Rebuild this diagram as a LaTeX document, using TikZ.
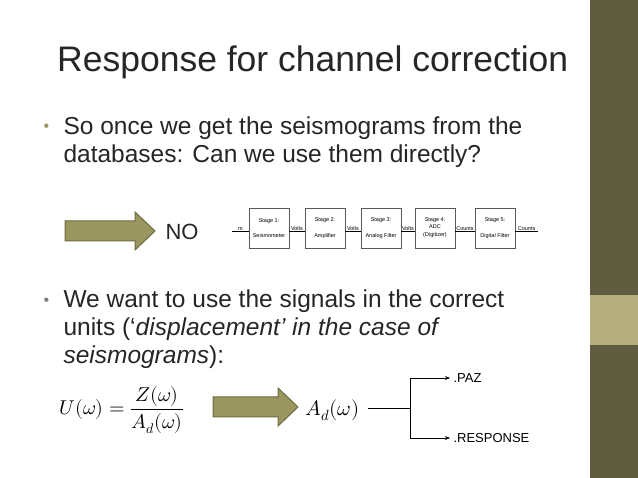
\documentclass[tikz,border=0pt]{standalone}
\usepackage{fontspec}
\setmainfont{Liberation Sans}
\usepackage{unicode-math}
\setmathfont{Latin Modern Math}
\usetikzlibrary{arrows.meta}
\definecolor{bar}{HTML}{5F5B3E}
\definecolor{tan}{HTML}{B5AF80}
\definecolor{olive}{HTML}{9A9660}
\definecolor{oliveD}{HTML}{6E6B40}
\tikzset{x=1pt,y=-1pt,
 barrow/.style={draw=oliveD,fill=olive,line width=1pt},
 stage/.style={draw=gray!70!black,fill=white,minimum width=40pt,minimum height=40pt,align=center,font=\fontsize{5.5}{6.5}\selectfont,inner sep=1pt},
 lab/.style={font=\fontsize{5.5}{6}\selectfont,above,inner sep=1pt},
 txt/.style={anchor=north west,align=left,font=\fontsize{24.5}{28}\selectfont,text=black!85}}
\newcommand\blockarrow[3]{% x0, y, length
 \draw[barrow] (#1,#2-10) -- (#1+#3-20,#2-10) -- (#1+#3-20,#2-19) -- (#1+#3,#2) -- (#1+#3-20,#2+19) -- (#1+#3-20,#2+10) -- (#1,#2+10) -- cycle;}
\begin{document}
\begin{tikzpicture}
\useasboundingbox (0,0) rectangle (638,478);
\fill[white] (0,0) rectangle (638,478);
\fill[bar] (590,0) rectangle (638,478);
\fill[tan] (590,295) rectangle (638,345);
\node[anchor=west,font=\fontsize{35.5}{38}\selectfont,text=black!85,inner sep=0pt] (title) at (57,62) {Response for channel correction};
\node[anchor=west,text=olive,font=\fontsize{16}{16}\selectfont] (b1) at (40,128) {•};
\node[txt] (t1) at (60,113) {So once we get the seismograms from the\\databases: Can we use them directly?};
\blockarrow{65}{231}{90}
\node[anchor=west,font=\fontsize{22}{22}\selectfont,text=black!85] (no) at (162,232) {NO};
\coordinate (s0) at (232,232);
\node[stage] (g1) at (269,228) {Stage 1:\\[9pt]Seismometer};
\node[stage] (g2) at (325,228) {Stage 2:\\[9pt]Amplifier};
\node[stage] (g3) at (381,228) {Stage 3:\\[9pt]Analog Filter};
\node[stage] (g4) at (435,228) {Stage 4:\\ADC\\[2pt](Digitizer)};
\node[stage] (g5) at (495,228) {Stage 5:\\[9pt]Digital Filter};
\coordinate (s6) at (538,232);
\draw[line width=1pt] (s0) -- (g1.west|-s0) node[lab,pos=0.5]{m};
\draw[line width=1pt] (g1.east|-s0) -- (g2.west|-s0) node[lab,midway]{Volts};
\draw[line width=1pt] (g2.east|-s0) -- (g3.west|-s0) node[lab,midway]{Volts};
\draw[line width=1pt] (g3.east|-s0) -- (g4.west|-s0) node[lab,midway]{Volts};
\draw[line width=1pt] (g4.east|-s0) -- (g5.west|-s0) node[lab,midway]{Counts};
\draw[line width=1pt] (g5.east|-s0) -- (s6) node[lab,midway]{Counts};
\node[anchor=west,text=gray,font=\fontsize{16}{16}\selectfont] (b2) at (40,302) {•};
\node[txt] (t2) at (60,286) {We want to use the signals in the correct\\units (‘\textit{displacement’ in the case of}\\\textit{seismograms}):};
\node[anchor=west,font=\fontsize{20}{22}\selectfont] (f1) at (56,410) {$U(\omega)=\dfrac{Z(\omega)}{A_d(\omega)}$};
\blockarrow{213}{407}{85}
\node[anchor=west,font=\fontsize{21}{22}\selectfont] (f2) at (302,410) {$A_d(\omega)$};
\coordinate (j) at (410,408);
\node[anchor=west,font=\fontsize{13}{14}\selectfont] (paz) at (450,378) {.PAZ};
\node[anchor=west,font=\fontsize{13}{14}\selectfont] (resp) at (450,438) {.RESPONSE};
\draw (f2.east|-j) ++(5,0) -- (j);
\draw[-{Stealth[length=5pt]}] (j) |- (paz.west);
\draw[-{Stealth[length=5pt]}] (j) |- (resp.west);
\end{tikzpicture}
\end{document}
